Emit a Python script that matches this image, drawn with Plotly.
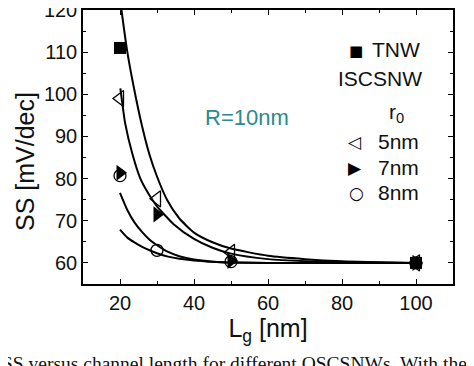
import plotly.graph_objects as go

# ---- data ----
lg_points = [20, 30, 50, 100]
tnw_x = [20, 100]
tnw_ss = [111, 60]
r5_ss = [99, 75.2, 62.5, 60]
r7_ss = [81.4, 71.5, 60.5, 60]
r8_ss = [80.7, 63.0, 60.3, 60]

# fitted curves
fitA_x = [20.4, 21.9, 23.7, 26.0, 28.0, 30.0, 32.7, 36.0, 40.0, 45.0, 50.0, 60.0, 70.0, 80.0, 100.0]
fitA_y = [120, 110.5, 101.8, 92.3, 85.6, 80.5, 75.0, 70.6, 67.2, 64.9, 63.4, 61.7, 60.9, 60.4, 60.0]
fitB_x = [20.1, 21.4, 23.3, 25.5, 27.5, 29.1, 30.0, 34.5, 40.0, 45.0, 50.0, 60.0, 70.0, 80.0, 100.0]
fitB_y = [101.4, 93.1, 86.0, 80.0, 76.7, 74.5, 73.4, 69.2, 65.7, 63.6, 62.2, 60.9, 60.4, 60.2, 60.0]
fitC_x = [20, 22, 24, 26, 28, 30, 33, 36, 40, 45, 50, 60, 100]
fitC_y = [76.6, 72.5, 69.5, 67.3, 65.5, 64.2, 62.6, 61.6, 60.8, 60.3, 60.1, 60.0, 60.0]
fitD_x = [20, 22, 24, 26, 28, 30, 33, 36, 40, 45, 50, 60, 100]
fitD_y = [67.9, 66.0, 64.8, 63.8, 63.0, 62.3, 61.5, 61.0, 60.6, 60.3, 60.1, 60.0, 60.0]

x_ticks = [20, 40, 60, 80, 100]
y_ticks = [60, 70, 80, 90, 100, 110, 120]

# ---- layout (the page body has an 8px margin, so figure coords = screen - 8) ----
OFF = 8
W, H = 474 - OFF, 366 - OFF
SL, SR, ST, SB = 83, 453, 10, 284          # plot box in screen pixels
def px(x):
    return (x - SL) / (SR - SL)
def py(y):
    return (SB - y) / (SB - ST)

fig = go.Figure()
for fx, fy in [(fitA_x, fitA_y), (fitB_x, fitB_y), (fitC_x, fitC_y), (fitD_x, fitD_y)]:
    fig.add_trace(go.Scatter(x=fx, y=fy, mode="lines", line=dict(color="black", width=2, shape="spline", smoothing=0.6),
                             showlegend=False, hoverinfo="skip"))

fig.add_trace(go.Scatter(x=lg_points, y=r8_ss, mode="markers",
                         marker=dict(symbol="circle-open", size=12, color="black", line=dict(width=1.3)), showlegend=False))
fig.add_trace(go.Scatter(x=lg_points, y=r7_ss, mode="markers",
                         marker=dict(symbol="triangle-right", size=14, color="black"), showlegend=False))
fig.add_trace(go.Scatter(x=lg_points, y=r5_ss, mode="markers",
                         marker=dict(symbol="triangle-left-open", size=14, color="black", line=dict(width=1.3)), showlegend=False))
fig.add_trace(go.Scatter(x=tnw_x, y=tnw_ss, mode="markers",
                         marker=dict(symbol="square", size=12, color="black"), showlegend=False))

FONT = "Liberation Sans, Arial, sans-serif"
ann = []
# legend
sym_font = dict(family="DejaVu Sans", size=17, color="black")
txt_font = dict(family=FONT, size=21, color="#111")
ann.append(dict(x=px(356), y=py(51), text="■", font=dict(family="DejaVu Sans", size=15, color="black")))
ann.append(dict(x=px(370), y=py(49), text="TNW", font=txt_font, xanchor="left"))
ann.append(dict(x=px(380), y=py(79), text="ISCSNW", font=txt_font))
ann.append(dict(x=px(396), y=py(113), text="r<sub>0</sub>", font=txt_font))
ann.append(dict(x=px(355), y=py(142), text="◁", font=sym_font))
ann.append(dict(x=px(376), y=py(141), text="5nm", font=txt_font, xanchor="left"))
ann.append(dict(x=px(355), y=py(168), text="▶", font=sym_font))
ann.append(dict(x=px(376), y=py(167), text="7nm", font=txt_font, xanchor="left"))
ann.append(dict(x=px(356), y=py(193), text="○", font=sym_font))
ann.append(dict(x=px(376), y=py(192), text="8nm", font=txt_font, xanchor="left"))
# R label
ann.append(dict(x=px(247), y=py(118), text="R=10nm", font=dict(family=FONT, size=22, color="#2a8a8c")))
# y title
ann.append(dict(x=px(25), y=py(162), text="SS [mV/dec]", textangle=-90, font=dict(family=FONT, size=25, color="#111")))
# caption (cut off at bottom, as in the source)
ann.append(dict(x=px(0), y=py(351), text="SS versus channel length for different OSCSNWs. With the",
                font=dict(family="Liberation Serif, Times New Roman, serif", size=19.5, color="#111"),
                xanchor="left", yanchor="top"))
for a in ann:
    a.setdefault("xanchor", "center")
    a.setdefault("yanchor", "middle")
    a.update(xref="paper", yref="paper", showarrow=False)

fig.update_layout(
    width=W, height=H,
    margin=dict(l=SL - OFF, r=W - (SR - OFF), t=ST - OFF, b=H - (SB - OFF)),
    paper_bgcolor="white", plot_bgcolor="white",
    annotations=ann,
    font=dict(family=FONT, color="#111"),
)
fig.update_xaxes(range=[10, 110], tickvals=x_ticks, ticks="inside", ticklen=5, tickwidth=1.3, tickcolor="black",
                 minor=dict(tickvals=[30, 50, 70, 90], ticks="inside", ticklen=3, tickwidth=1.3, tickcolor="black"),
                 showline=True, linecolor="black", linewidth=1.5, mirror="ticks", showgrid=False, zeroline=False,
                 automargin=False, ticklabeloverflow="allow",
                 tickfont=dict(size=20, family=FONT, color="#111"),
                 title=dict(text="L<sub>g</sub> [nm]", font=dict(size=25, family=FONT, color="#111"), standoff=3))
fig.update_yaxes(range=[55, 120], tickvals=y_ticks, ticks="inside", ticklen=5, tickwidth=1.3, tickcolor="black",
                 minor=dict(tickvals=[65, 75, 85, 95, 105, 115], ticks="inside", ticklen=3, tickwidth=1.3, tickcolor="black"),
                 showline=True, linecolor="black", linewidth=1.5, mirror="ticks", showgrid=False, zeroline=False,
                 automargin=False, ticklabeloverflow="allow",
                 tickfont=dict(size=20, family=FONT, color="#111"))

fig.write_html("out.html")
